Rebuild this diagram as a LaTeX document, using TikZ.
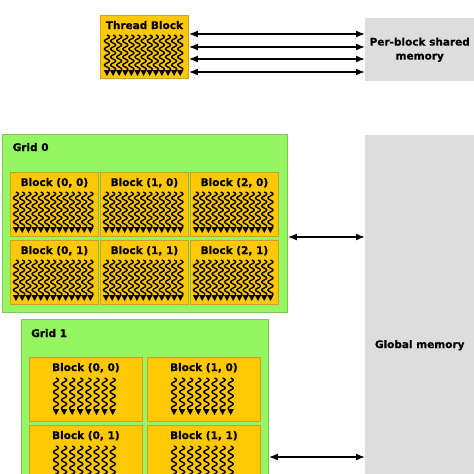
\documentclass[tikz,border=0pt]{standalone}
\usepackage{fontspec}
\setmainfont{DejaVu Sans}
\newfontfamily\lblfont{DejaVu Sans}[UprightFont=*-Bold, FakeBold=0.6]
\usetikzlibrary{arrows.meta}
\definecolor{blockfill}{HTML}{FFC800}
\definecolor{blockline}{HTML}{C9A227}
\definecolor{gridfill}{HTML}{95F562}
\definecolor{gridline}{HTML}{78C85A}
\definecolor{memfill}{HTML}{DDDDDD}
\tikzset{
  blk/.style={draw=blockline, fill=blockfill, line width=0.8pt, anchor=north west, inner sep=0pt},
  grd/.style={draw=gridline, fill=gridfill, line width=0.8pt, anchor=north west, inner sep=0pt},
  mem/.style={fill=memfill, anchor=north west, inner sep=0pt},
  lbl/.style={font=\lblfont\fontsize{10.5}{14}\selectfont, inner sep=0pt},
  conn/.style={line width=1.6pt, {Latex[length=9pt,width=7pt]}-{Latex[length=9pt,width=7pt]}},
  thr/.style={line width=1.4pt, line join=round}
}
\newcommand\mythreads[5]{%
  \pgfmathsetmacro\myyend{#5-6}%
  \foreach \i in {1,...,#3}{%
    \pgfmathsetmacro\xc{#1+(\i-1)*#2}%
    \draw[thr] plot[domain=#4:\myyend, samples=45, smooth] ({\xc+2.6*sin(360*(\x-#4)/8)},\x);
    \fill (\xc-3.2,\myyend) -- (\xc+3.2,\myyend) -- (\xc,#5) -- cycle;
  }%
}
\begin{document}
\begin{tikzpicture}[x=1pt,y=-1pt]
\useasboundingbox (0,0) rectangle (474,474);
\clip (0,0) rectangle (474,474);
% memories
\node[mem, minimum width=109pt, minimum height=63pt] (shm) at (365,18) {};
\node[lbl, align=center] at (shm.center) {Per-block shared\\memory};
\node[mem, minimum width=109pt, minimum height=420pt] (gm) at (365,135) {};
\node[lbl] at (gm.center) {Global memory};
% thread block
\node[blk, minimum width=88pt, minimum height=63pt] (tb) at (100,15) {};
\node[lbl, anchor=base] at ([yshift=-14pt]tb.north) {Thread Block};
\mythreads{107}{6.1}{13}{35}{76}
% grid 0
\node[grd, minimum width=285pt, minimum height=178pt] (g0) at (2,134) {};
\node[lbl, anchor=base west] at ([xshift=10.5pt,yshift=-17pt]g0.north west) {Grid 0};
\foreach \c/\xx in {0/10,1/100,2/190}{
  \foreach \r/\yy in {0/172,1/240}{
    \node[blk, minimum width=88pt, minimum height=64pt] (b0\c\r) at (\xx,\yy) {};
    \node[lbl, anchor=base] at ([yshift=-14pt]b0\c\r.north) {Block (\c, \r)};
    \pgfmathsetmacro\xs{\xx+6}
    \pgfmathsetmacro\ys{\yy+20}
    \pgfmathsetmacro\ye{\yy+61}
    \mythreads{\xs}{6.2}{13}{\ys}{\ye}
  }
}
% grid 1
\node[grd, minimum width=247pt, minimum height=180pt] (g1) at (21,319) {};
\node[lbl, anchor=base west] at ([xshift=10pt,yshift=-18pt]g1.north west) {Grid 1};
\foreach \c/\xx in {0/29,1/147}{
  \foreach \r/\yy in {0/357,1/425}{
    \node[blk, minimum width=113pt, minimum height=64pt] (b1\c\r) at (\xx,\yy) {};
    \node[lbl, anchor=base] at ([yshift=-14pt]b1\c\r.north) {Block (\c, \r)};
    \pgfmathsetmacro\xs{\xx+27}
    \pgfmathsetmacro\ys{\yy+21}
    \pgfmathsetmacro\ye{\yy+58}
    \mythreads{\xs}{8.1}{8}{\ys}{\ye}
  }
}
% connectors
\foreach \yy [count=\k] in {34,47,59,72}{
  \coordinate (a\k) at (0,\yy);
  \draw[conn] (tb.east |- a\k) -- (shm.west |- a\k);
}
\coordinate (c0) at (0,237);
\draw[conn] (g0.east |- c0) -- (gm.west |- c0);
\coordinate (c1) at (0,457);
\draw[conn] (g1.east |- c1) -- (gm.west |- c1);
\end{tikzpicture}
\end{document}
